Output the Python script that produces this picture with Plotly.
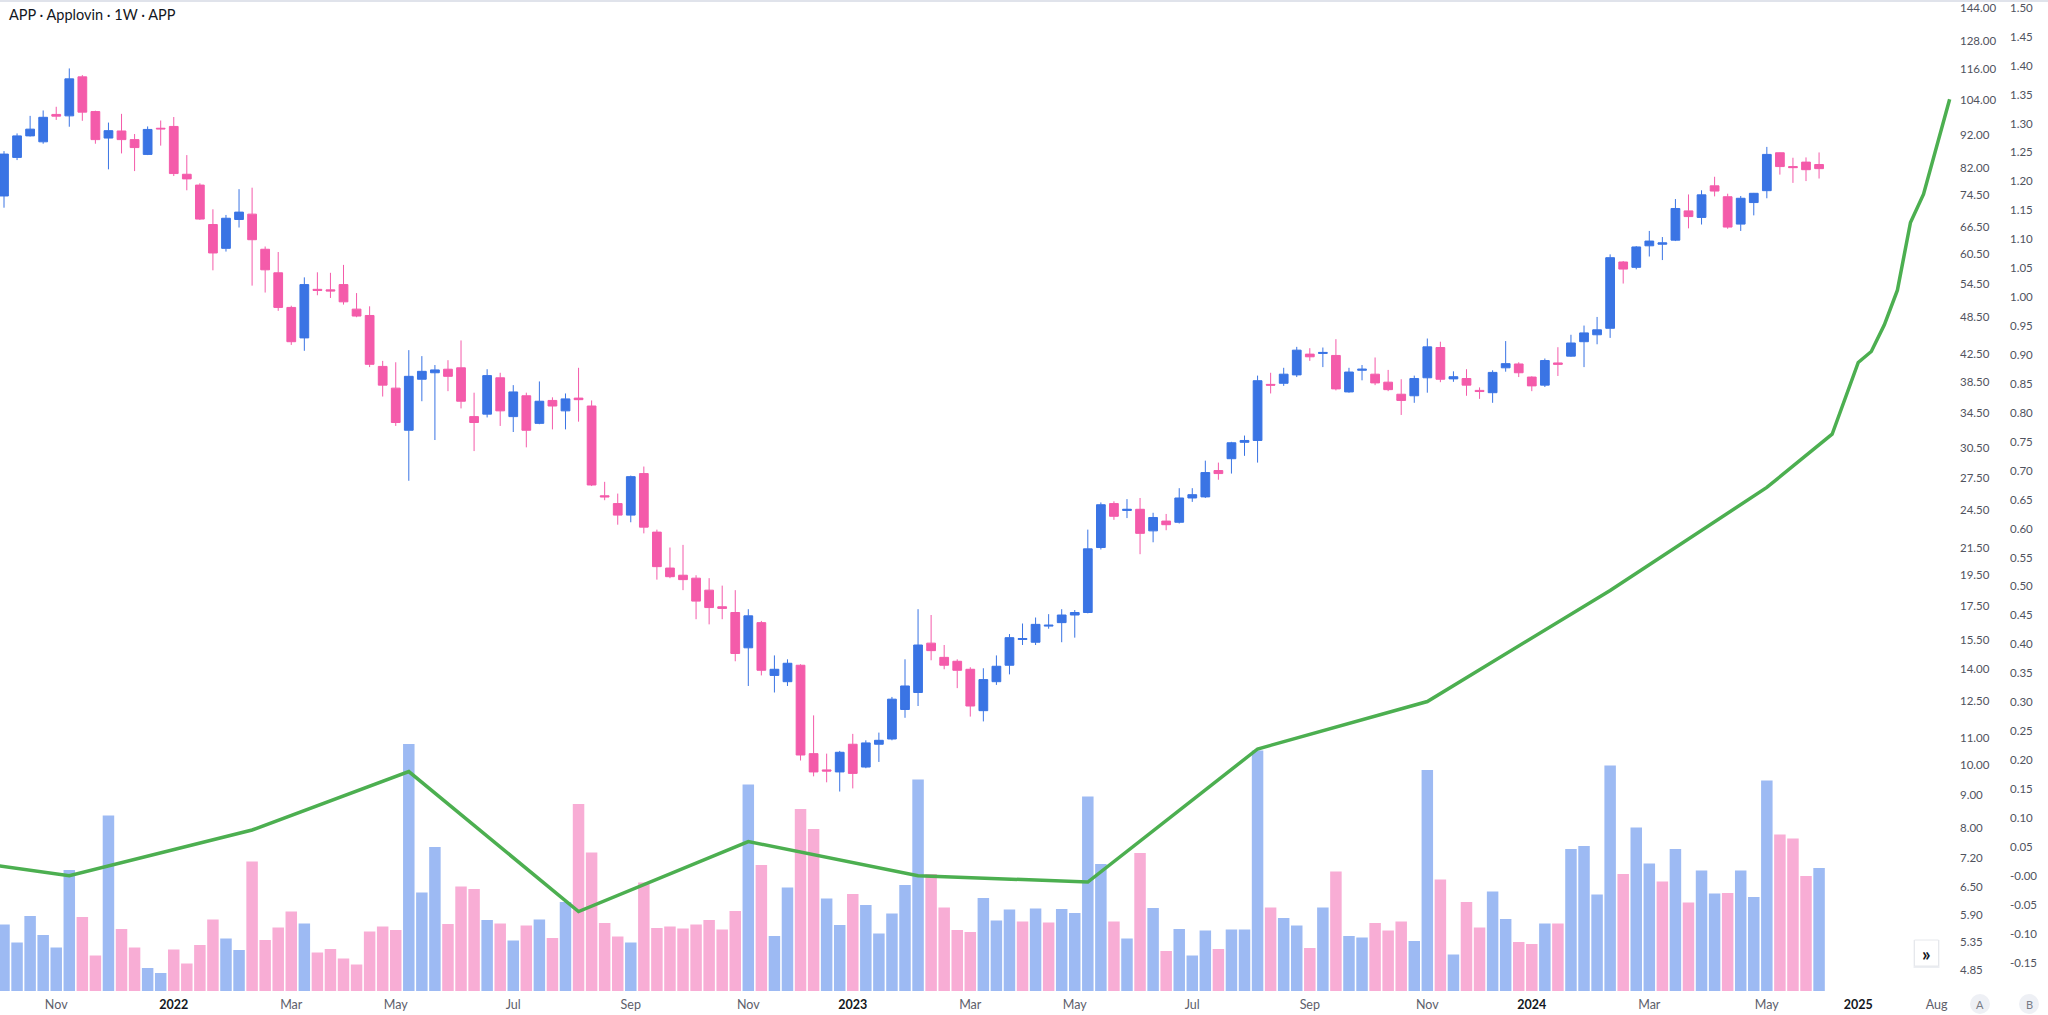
import plotly.graph_objects as go
import pandas as pd

W, H = 2048, 1015
FONT = "Lato, 'Noto Sans', sans-serif"

# ---------------- data ----------------
week_start = pd.date_range("2021-10-04", periods=140, freq="7D")

opens = [74.2, 85.0, 91.7, 89.8, 98.9, 98.4, 112.9, 99.9, 91.0, 93.3,
         90.5, 85.9, 94.2, 94.8, 80.1, 77.1, 67.1, 61.7, 68.3, 69.6,
         61.5, 56.6, 50.1, 45.0, 53.4, 53.3, 54.3, 49.8, 48.7, 40.7,
         37.7, 32.5, 38.9, 39.8, 40.3, 40.5, 34.1, 34.4, 39.1, 34.1,
         36.7, 33.3, 36.1, 34.8, 36.4, 35.4, 25.8, 25.1, 24.1, 27.9,
         22.7, 20.0, 19.5, 19.3, 18.5, 17.45, 17.1, 15.1, 16.5, 13.7,
         13.4, 14.2, 10.4, 9.82, 9.75, 10.75, 9.92, 10.75, 10.95, 12.15,
         12.9, 15.35, 14.6, 14.4, 14.0, 12.1, 13.4, 14.2, 15.55, 15.4,
         16.3, 16.5, 16.95, 17.1, 21.5, 25.1, 24.5, 24.6, 22.8, 23.6,
         23.5, 25.6, 25.7, 28.2, 29.4, 31.15, 31.35, 38.2, 38.35, 39.5,
         42.5, 42.6, 42.3, 37.2, 40.15, 39.6, 38.5, 36.9, 36.7, 39.1,
         43.5, 38.95, 39.0, 37.4, 37.1, 40.5, 41.05, 39.2, 38.1, 41.2,
         42.2, 44.4, 45.5, 46.55, 58.8, 57.7, 62.25, 62.6, 63.5, 70.4,
         68.8, 76.9, 74.0, 67.2, 72.5, 75.6, 86.4, 82.3, 83.6, 82.9]
highs = [86.9, 92.5, 98.4, 100.3, 101.6, 116.3, 113.6, 100.2, 96.1, 99.1,
         92.3, 94.8, 96.8, 98.0, 85.7, 77.6, 70.8, 69.4, 76.0, 76.4,
         62.1, 60.9, 50.4, 55.7, 56.7, 56.6, 58.2, 52.7, 50.3, 41.5,
         41.3, 43.1, 42.2, 40.9, 41.6, 44.6, 37.1, 40.3, 39.8, 38.1,
         37.1, 38.6, 36.5, 37.0, 40.5, 36.1, 27.1, 26.0, 27.7, 28.6,
         22.9, 21.5, 21.7, 19.5, 19.3, 18.8, 18.5, 17.3, 16.6, 14.7,
         14.5, 14.25, 11.9, 10.4, 10.5, 11.15, 10.9, 11.2, 12.7, 14.5,
         17.3, 16.95, 15.25, 14.5, 14.1, 14.05, 14.7, 15.85, 16.45, 16.8,
         17.0, 17.3, 17.25, 22.9, 25.2, 25.3, 25.5, 25.6, 24.3, 24.2,
         26.5, 26.5, 29.2, 29.0, 31.2, 31.9, 39.4, 39.8, 40.5, 43.6,
         43.4, 43.5, 44.8, 40.5, 40.9, 42.0, 40.2, 38.9, 39.4, 44.9,
         44.4, 40.0, 40.3, 37.8, 40.15, 44.5, 41.3, 39.3, 41.85, 43.55,
         45.5, 47.0, 48.45, 60.4, 59.0, 62.2, 65.6, 64.2, 73.4, 74.6,
         75.7, 79.4, 74.8, 74.2, 75.0, 88.2, 86.5, 84.9, 85.0, 86.5]
lows = [71.2, 84.2, 91.5, 89.2, 97.0, 94.7, 96.7, 89.2, 81.5, 86.2,
        81.0, 85.7, 88.6, 79.6, 75.7, 68.2, 57.1, 61.0, 66.4, 54.1,
        52.8, 49.5, 43.9, 43.0, 52.3, 51.8, 50.6, 48.4, 40.6, 36.6,
        33.0, 27.2, 36.0, 31.4, 37.3, 35.1, 30.2, 34.0, 33.0, 32.3,
        30.6, 33.2, 32.6, 32.6, 33.5, 26.7, 25.4, 23.3, 23.5, 22.6,
        19.2, 19.3, 18.5, 16.7, 16.4, 16.7, 14.4, 13.2, 13.7, 12.9,
        13.2, 10.15, 9.6, 9.4, 9.1, 9.2, 9.88, 10.1, 10.9, 11.8,
        12.3, 14.45, 14.0, 13.1, 11.85, 11.65, 13.25, 13.75, 15.25, 15.25,
        16.15, 15.4, 15.65, 17.05, 21.35, 23.7, 23.85, 21.0, 21.9, 22.85,
        23.4, 25.25, 25.6, 27.3, 27.9, 29.7, 29.0, 37.0, 38.0, 39.2,
        41.5, 40.6, 37.4, 37.1, 38.75, 38.1, 37.3, 34.3, 35.8, 37.1,
        38.5, 38.55, 36.7, 36.3, 35.8, 39.95, 39.2, 37.3, 37.85, 39.35,
        42.1, 40.6, 44.0, 45.0, 54.5, 57.3, 59.95, 59.2, 63.3, 66.2,
        67.1, 74.1, 66.1, 65.6, 69.3, 73.6, 80.0, 77.7, 78.2, 78.9]
closes = [86.0, 91.7, 93.9, 97.9, 98.3, 112.1, 99.7, 90.5, 93.4, 90.5,
          88.0, 93.8, 94.0, 80.3, 78.8, 68.4, 60.7, 68.6, 70.1, 63.6,
          57.2, 50.1, 44.4, 54.3, 53.2, 53.1, 51.1, 48.6, 41.0, 38.1,
          33.4, 39.3, 40.0, 40.2, 39.3, 36.0, 33.4, 39.4, 34.8, 37.2,
          32.5, 36.0, 35.4, 36.3, 36.2, 26.8, 25.7, 24.1, 27.6, 23.1,
          20.1, 19.4, 19.2, 17.8, 17.4, 17.35, 14.8, 16.9, 13.95, 14.0,
          14.3, 10.35, 9.75, 9.78, 10.45, 9.7, 10.8, 10.9, 12.6, 13.2,
          15.25, 14.95, 14.2, 13.95, 12.3, 13.5, 14.15, 15.65, 15.6, 16.4,
          16.35, 16.95, 17.1, 21.4, 25.0, 24.0, 24.6, 22.6, 23.9, 23.3,
          25.6, 25.9, 28.0, 27.9, 31.1, 31.35, 38.7, 38.1, 39.6, 43.1,
          42.1, 42.75, 37.6, 39.9, 40.3, 38.4, 37.5, 36.1, 39.0, 43.6,
          38.9, 39.25, 38.1, 37.25, 39.85, 41.1, 39.8, 38.0, 41.55, 41.0,
          44.2, 45.8, 46.3, 59.7, 57.35, 62.0, 63.3, 62.9, 71.0, 69.0,
          74.5, 75.5, 66.5, 73.6, 74.9, 85.9, 82.3, 82.0, 81.4, 81.7]
volume_m = [13.3, 9.7, 15.0, 11.2, 8.7, 24.2, 14.8, 7.1, 35.1, 12.4,
            8.7, 4.6, 3.6, 8.3, 5.5, 9.2, 14.3, 10.5, 8.2, 25.9,
            10.2, 12.7, 15.9, 13.5, 7.7, 8.4, 6.5, 5.3, 11.9, 12.9,
            12.2, 49.4, 19.7, 28.8, 13.4, 20.9, 20.4, 14.2, 13.5, 10.1,
            13.1, 14.3, 10.6, 17.8, 37.4, 27.7, 13.6, 10.9, 9.7, 21.7,
            12.6, 12.9, 12.5, 13.3, 14.2, 12.3, 16.0, 41.3, 25.2, 11.0,
            20.7, 36.4, 32.4, 18.5, 13.2, 19.4, 17.2, 11.5, 15.5, 21.2,
            42.3, 23.4, 16.7, 12.2, 11.8, 18.6, 14.1, 16.3, 13.9, 16.5,
            13.7, 16.4, 15.6, 38.9, 25.4, 13.9, 10.5, 27.6, 16.6, 8.0,
            12.4, 7.1, 12.1, 8.4, 12.3, 12.3, 48.1, 16.7, 14.6, 13.1,
            8.6, 16.7, 23.9, 11.0, 10.7, 13.6, 12.1, 13.9, 10.0, 44.2,
            22.3, 7.3, 17.8, 12.7, 19.9, 14.4, 9.8, 9.4, 13.5, 13.5,
            28.4, 29.0, 19.3, 45.1, 23.4, 32.7, 25.5, 21.9, 28.4, 17.7,
            24.1, 19.5, 19.6, 24.1, 18.8, 42.1, 31.3, 30.5, 23.0, 24.6]

# quarterly EPS (reported + estimates), placed on time-scale slots
eps_slot = [-8, 5, 19, 31, 44, 57, 70, 83, 96, 109, 123, 135,
            140, 142, 143, 144, 145, 146, 147, 149]
eps_value = [0.041, 0.00, 0.079, 0.180, -0.062, 0.059, 0.00, -0.011, 0.219, 0.301,
             0.493, 0.671, 0.763, 0.887, 0.906, 0.952, 1.012, 1.129, 1.178, 1.342]

future_tick_slot = [142, 148]
future_tick_text = ["2025", "Aug"]

price_ticks = [144, 128, 116, 104, 92, 82, 74.5, 66.5, 60.5, 54.5, 48.5, 42.5,
               38.5, 34.5, 30.5, 27.5, 24.5, 21.5, 19.5, 17.5, 15.5, 14, 12.5,
               11, 10, 9, 8, 7.2, 6.5, 5.9, 5.35, 4.85]
eps_ticks = [1.50, 1.45, 1.40, 1.35, 1.30, 1.25, 1.20, 1.15, 1.10, 1.05, 1.00,
             0.95, 0.90, 0.85, 0.80, 0.75, 0.70, 0.65, 0.60, 0.55, 0.50, 0.45,
             0.40, 0.35, 0.30, 0.25, 0.20, 0.15, 0.10, 0.05, 0.00, -0.05,
             -0.10, -0.15]
eps_tick_text = ["1.50", "1.45", "1.40", "1.35", "1.30", "1.25", "1.20", "1.15",
                 "1.10", "1.05", "1.00", "0.95", "0.90", "0.85", "0.80", "0.75",
                 "0.70", "0.65", "0.60", "0.55", "0.50", "0.45", "0.40", "0.35",
                 "0.30", "0.25", "0.20", "0.15", "0.10", "0.05", "-0.00", "-0.05",
                 "-0.10", "-0.15"]

# ---------------- styles ----------------
UP = "#3A74E4"
DN = "#F45BAA"
UP_V = "#9DBAF3"
DN_V = "#F8ADD5"
GREEN = "#4CAF50"
TXT = "#50535E"
DARK = "#131722"

slots = list(range(len(opens)))

vol_colors = []
for i in slots:
    ref = closes[i - 1] if i > 0 else opens[i]
    vol_colors.append(UP_V if closes[i] >= ref else DN_V)

# x tick labels: every other month, years in bold
xt_vals, xt_text = [], []
for i, d in enumerate(week_start):
    if i == 0 or d.month == week_start[i - 1].month:
        continue
    if d.month == 1:
        xt_vals.append(i)
        xt_text.append(f"<span style='color:{DARK}'><b>{d.year}</b></span>")
    elif d.month % 2 == 1:
        xt_vals.append(i)
        xt_text.append(d.strftime("%b"))
for s, t in zip(future_tick_slot, future_tick_text):
    xt_vals.append(s)
    xt_text.append(f"<span style='color:{DARK}'><b>{t}</b></span>" if t.isdigit() else t)

fig = go.Figure()

fig.add_trace(go.Bar(
    x=slots, y=volume_m, marker=dict(color=vol_colors, line=dict(width=0)),
    width=0.88, xaxis="x", yaxis="y", hoverinfo="skip", showlegend=False))

fig.add_trace(go.Candlestick(
    x=slots, open=opens, high=highs, low=lows, close=closes,
    xaxis="x", yaxis="y2", whiskerwidth=0,
    increasing=dict(line=dict(color=UP, width=1), fillcolor=UP),
    decreasing=dict(line=dict(color=DN, width=1), fillcolor=DN),
    showlegend=False, hoverinfo="skip"))

fig.add_trace(go.Scatter(
    x=eps_slot, y=eps_value, mode="lines", xaxis="x", yaxis="y3",
    line=dict(color=GREEN, width=3.5), showlegend=False, hoverinfo="skip"))

PLOT_RIGHT = 1955
PLOT_BOTTOM = 991

fig.update_layout(
    width=W, height=H,
    margin=dict(l=0, r=0, t=0, b=H - PLOT_BOTTOM),
    paper_bgcolor="white", plot_bgcolor="white",
    font=dict(family=FONT, color=TXT),
    boxgap=0.33, boxgroupgap=0,
    bargap=0.1,
    xaxis=dict(domain=[0, PLOT_RIGHT / W], range=[-0.306, 149.41],
               tickvals=xt_vals, ticktext=xt_text,
               tickfont=dict(size=12.5, color="#5d606b", family=FONT),
               showgrid=False, zeroline=False, showline=False, ticks="",
               ticklabelstandoff=4, rangeslider=dict(visible=False),
               automargin=False, fixedrange=True),
    yaxis=dict(range=[0, 198.2], visible=False, fixedrange=True),
    yaxis2=dict(type="log", range=[0.65379, 2.17030], overlaying="y",
                side="right", anchor="x", tickvals=price_ticks,
                ticktext=[f"{v:.2f}" for v in price_ticks],
                tickfont=dict(size=11.5, color=TXT, family=FONT),
                showgrid=False, zeroline=False, showline=False, ticks="",
                ticklabelstandoff=4, automargin=False, fixedrange=True),
    yaxis3=dict(range=[-0.1993, 1.5135], overlaying="y", side="right",
                anchor="free", position=2007 / W,
                tickvals=eps_ticks, ticktext=eps_tick_text,
                tickfont=dict(size=11.5, color=TXT, family=FONT),
                showgrid=False, zeroline=False, showline=False, ticks="",
                ticklabelstandoff=2, automargin=False, fixedrange=True),
)

# title
fig.add_annotation(x=7 / W, y=1 - 15 / PLOT_BOTTOM, xref="paper", yref="paper",
                   xanchor="left", yanchor="middle", showarrow=False,
                   text="APP · Applovin · 1W · APP",
                   font=dict(size=14.5, color=DARK, family=FONT))

# top border
fig.add_shape(type="line", xref="paper", yref="paper", x0=0, x1=1,
              y0=1 - 1 / PLOT_BOTTOM, y1=1 - 1 / PLOT_BOTTOM,
              line=dict(color="#E0E3EB", width=2))

# scale buttons A / B
for cx, lab in [(1980, "A"), (2029, "B")]:
    cy = 1004
    r = 10
    fig.add_shape(type="circle", xref="paper", yref="paper",
                  x0=(cx - r) / W, x1=(cx + r) / W,
                  y0=(PLOT_BOTTOM - cy - r) / PLOT_BOTTOM,
                  y1=(PLOT_BOTTOM - cy + r) / PLOT_BOTTOM,
                  fillcolor="#EEF0F5", line=dict(width=0))
    fig.add_annotation(x=cx / W, y=(PLOT_BOTTOM - cy) / PLOT_BOTTOM,
                       xref="paper", yref="paper", showarrow=False,
                       xanchor="center", yanchor="middle", text=lab,
                       font=dict(size=11, color="#787B86", family=FONT))

# scroll-to-realtime button (with soft shadow)
bx, by = 1926.5, 953
hw, hh = 12, 13
fig.add_shape(type="rect", xref="paper", yref="paper",
              x0=(bx - hw - 1) / W, x1=(bx + hw + 1) / W,
              y0=(PLOT_BOTTOM - by - hh - 2) / PLOT_BOTTOM,
              y1=(PLOT_BOTTOM - by + hh) / PLOT_BOTTOM,
              fillcolor="#ECEEF2", line=dict(width=0))
fig.add_shape(type="rect", xref="paper", yref="paper",
              x0=(bx - hw) / W, x1=(bx + hw) / W,
              y0=(PLOT_BOTTOM - by - hh) / PLOT_BOTTOM,
              y1=(PLOT_BOTTOM - by + hh) / PLOT_BOTTOM,
              fillcolor="white", line=dict(color="#E6E8EC", width=1))
fig.add_annotation(x=bx / W, y=(PLOT_BOTTOM - by) / PLOT_BOTTOM,
                   xref="paper", yref="paper", showarrow=False,
                   xanchor="center", yanchor="middle", text="<b>»</b>",
                   font=dict(size=19, color=DARK, family=FONT))

fig.write_html("out.html")
